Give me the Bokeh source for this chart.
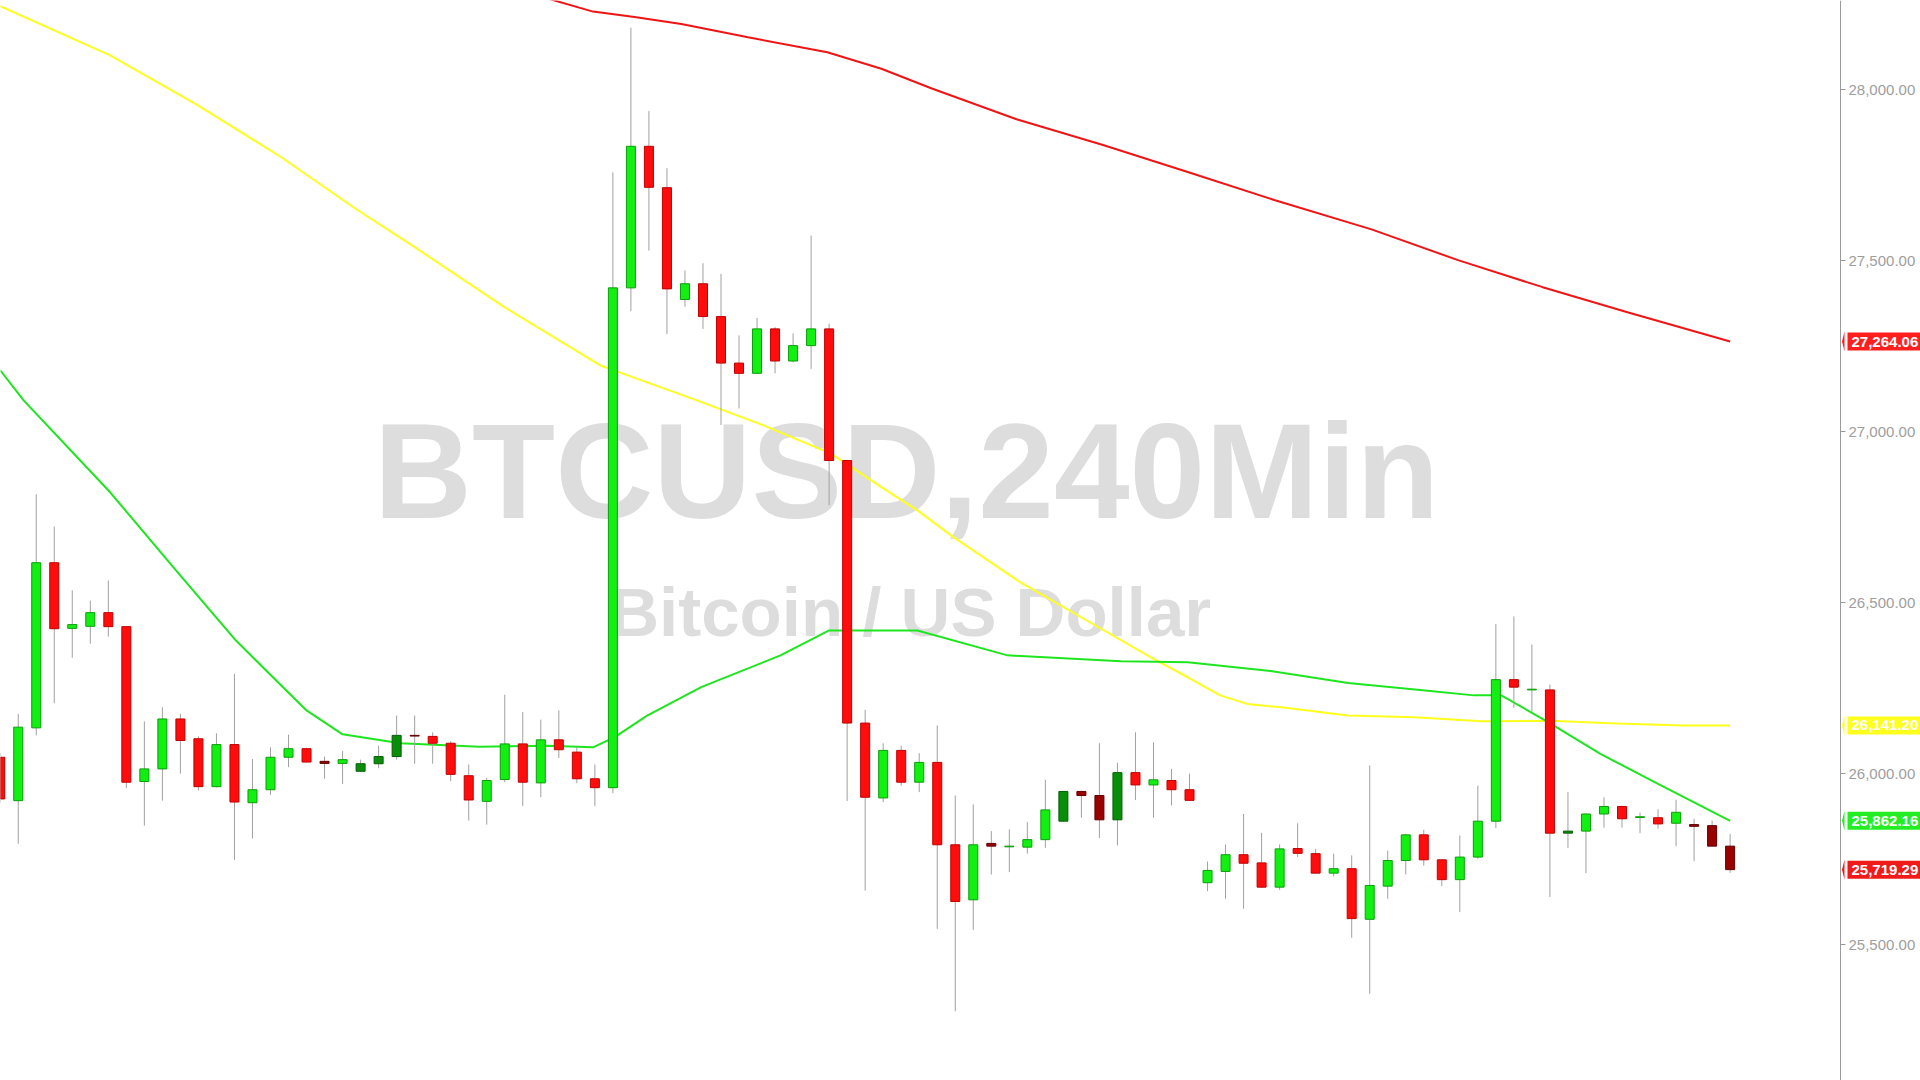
from bokeh.plotting import figure
from bokeh.models import (ColumnDataSource, SingleIntervalTicker, NumeralTickFormatter,
                          Range1d, Label, PolyAnnotation)
from bokeh.core.properties import value
from bokeh.embed import file_html
from bokeh.resources import INLINE

# ---------------- data (BTCUSD, 240 min bars) ----------------
opens = [26048, 25921, 26134, 26617, 26425, 26431, 26471, 26430, 25977, 26014,
         26160, 26102, 25962, 26085, 25915, 25953, 26048, 26073, 26036, 26030,
         26007, 26029, 26050, 26112, 26109, 26089, 25994, 25919, 25983, 26087,
         25973, 26099, 26063, 25985, 25959, 27421, 27835, 27714, 27387, 27433,
         27337, 27201, 27171, 27301, 27207, 27252, 27301, 26916, 26148, 25929,
         26068, 25975, 26033, 25792, 25631, 25796, 25786, 25785, 25807, 25861,
         25948, 25936, 25865, 26003, 25967, 25980, 25953, 25681, 25714, 25763,
         25739, 25668, 25781, 25766, 25709, 25722, 25574, 25671, 25746, 25821,
         25748, 25690, 25756, 25861, 26275, 26245, 26245, 25826, 25832, 25882,
         25904, 25872, 25871, 25855, 25851, 25848, 25788]
highs = [26060, 26175, 26817, 26723, 26536, 26506, 26565, 26432, 26153, 26194,
         26175, 26109, 26118, 26292, 26043, 26077, 26114, 26076, 26050, 26066,
         26041, 26082, 26170, 26170, 26121, 26095, 26027, 25988, 26231, 26180,
         26158, 26185, 26077, 26027, 27759, 28182, 27938, 27771, 27472, 27493,
         27462, 27282, 27333, 27306, 27288, 27574, 27316, 26918, 26187, 26089,
         26082, 26060, 26141, 25936, 25910, 25832, 25837, 25858, 25982, 25948,
         25950, 26089, 26032, 26121, 26092, 26014, 26000, 25743, 25793, 25882,
         25827, 25793, 25855, 25780, 25766, 25761, 26024, 25775, 25824, 25836,
         25750, 25819, 25965, 26438, 26460, 26378, 26261, 25946, 25884, 25931,
         25906, 25886, 25896, 25924, 25868, 25863, 25824]
lows = [25915, 25795, 26112, 26206, 26339, 26380, 26401, 25958, 25848, 25921,
        26000, 25951, 25960, 25748, 25810, 25938, 26019, 26033, 25985, 25970,
        26007, 26016, 26041, 26029, 26029, 25978, 25863, 25851, 25975, 25905,
        25931, 26046, 25972, 25905, 25943, 27353, 27530, 27286, 27366, 27301,
        27020, 27068, 27171, 27171, 27203, 27184, 26785, 25920, 25658, 25917,
        25965, 25946, 25546, 25305, 25543, 25705, 25712, 25766, 25783, 25860,
        25871, 25812, 25790, 25923, 25871, 25907, 25920, 25656, 25634, 25605,
        25666, 25660, 25756, 25707, 25699, 25520, 25356, 25634, 25705, 25731,
        25671, 25595, 25751, 25841, 26193, 26180, 25639, 25783, 25709, 25842,
        25842, 25826, 25839, 25788, 25744, 25788, 25710]
closes = [25926, 26136, 26617, 26424, 26436, 26471, 26430, 25975, 26014, 26160,
          26097, 25962, 26085, 25917, 25953, 26048, 26073, 26034, 26030, 26041,
          26029, 26050, 26112, 26110, 26089, 25998, 25923, 25980, 26087, 25975,
          26099, 26070, 25985, 25959, 27421, 27835, 27715, 27418, 27433, 27337,
          27201, 27171, 27301, 27207, 27252, 27301, 26916, 26148, 25931, 26068,
          25975, 26033, 25792, 25626, 25792, 25788, 25788, 25807, 25894, 25948,
          25936, 25865, 26003, 25967, 25982, 25953, 25922, 25717, 25763, 25738,
          25668, 25780, 25767, 25709, 25722, 25576, 25673, 25746, 25821, 25748,
          25690, 25756, 25861, 26275, 26253, 26247, 25826, 25832, 25882, 25904,
          25868, 25874, 25853, 25887, 25846, 25788, 25719.29]
# bars drawn in the platform's darker shade
dim_bars = [18, 20, 21, 22, 23, 55, 59, 60, 61, 62, 87, 94, 95, 96]

ma50_x = [0, 1.3, 6.1, 9.6, 13.0, 14.1, 17.0, 19.0, 22.2, 26.6, 30.4, 32.9, 34.1, 35.9,
          38.9, 43.3, 46.0, 48.9, 50.9, 55.9, 62.2, 65.9, 70.5, 74.8, 78.8, 81.8,
          83.3, 85.9, 88.8, 92.0, 96]
ma50_y = [27180, 27092, 26823, 26604, 26394, 26336, 26185, 26115, 26089, 26079, 26082,
          26077, 26107, 26170, 26253, 26346, 26419, 26419, 26419, 26346, 26329, 26326,
          26300, 26265, 26245, 26229, 26229, 26151, 26058, 25970, 25862.16]
ma100_x = [0, 6.1, 10.9, 15.6, 19.7, 23.0, 28.0, 33.3, 34.1, 38.7, 42.4, 46.1, 48.9,
           50.9, 52.9, 56.6, 60.3, 64.0, 65.9, 67.7, 69.2, 71.1, 74.8, 78.5, 82.2,
           86.0, 89.7, 93.4, 96]
ma100_y = [28245, 28101, 27957, 27803, 27653, 27540, 27364, 27194, 27179, 27091, 27018,
           26936, 26838, 26770, 26692, 26560, 26448, 26336, 26282, 26229, 26204, 26194,
           26170, 26165, 26153, 26155, 26147, 26141, 26141.20]
ma200_x = [30.0, 32.9, 35.2, 37.8, 41.5, 45.9, 48.9, 51.7, 56.4, 61.2, 65.9, 70.7,
           76.1, 80.9, 85.6, 90.4, 96]
ma200_y = [28273, 28229, 28213, 28193, 28154, 28110, 28062, 28004, 27914, 27839, 27760,
           27678, 27592, 27502, 27423, 27348, 27264.06]

symbol = "BTCUSD"
interval = "240Min"
description = "Bitcoin / US Dollar"

# ---------------- styling ----------------
FRAME_W = 1920
FRAME_H = 1080
PX = 18.02                         # pixels per bar
X0 = 0.3 / PX
X1 = X0 + FRAME_W / PX
Y0, Y1 = 25102.5, 28261.5
UNIT_X = 1 / PX                    # data units per pixel, x
UNIT_Y = (Y1 - Y0) / FRAME_H       # data units per pixel, y
AXIS_X = X0 + 1840 * UNIT_X        # where the price scale sits

UP, UP_LINE = "#12F012", "#0A9E0A"
DN, DN_LINE = "#FF0D0D", "#C00000"
UP_DIM, UP_DIM_LINE = "#088E08", "#055E05"
DN_DIM, DN_DIM_LINE = "#990000", "#600000"

idx = list(range(len(opens)))
fill, line = [], []
for i in idx:
    up = closes[i] >= opens[i]
    dim = i in dim_bars
    if up:
        fill.append(UP_DIM if dim else UP)
        line.append(UP_DIM_LINE if dim else UP_LINE)
    else:
        fill.append(DN_DIM if dim else DN)
        line.append(DN_DIM_LINE if dim else DN_LINE)

src = ColumnDataSource(dict(
    x=idx, high=highs, low=lows,
    top=[max(o, c) for o, c in zip(opens, closes)],
    bottom=[min(o, c) for o, c in zip(opens, closes)],
    fill=fill, line=line))

p = figure(frame_width=FRAME_W, frame_height=FRAME_H,
           output_backend="svg", toolbar_location=None,
           x_axis_location=None, y_axis_location="right",
           x_range=Range1d(X0, X1), y_range=Range1d(Y0, Y1),
           min_border_left=0, min_border_top=0, min_border_bottom=0,
           min_border_right=0,
           background_fill_color="white", border_fill_color="white",
           outline_line_color=None)
p.xgrid.visible = False
p.ygrid.visible = False

# watermark
p.text(x=[50.3], y=[26884], text=[f"{symbol},{interval}"],
       text_align="center", text_baseline="alphabetic",
       text_font=value("Liberation Sans"), text_font_style="bold",
       text_font_size="136px", text_color="#DDDDDD")
p.text(x=[50.5], y=[26470], text=[description],
       text_align="center", text_baseline="alphabetic",
       text_font=value("Liberation Sans"), text_font_style="bold",
       text_font_size="69px", text_color="#DDDDDD")

# moving averages
p.line(ma200_x, ma200_y, line_color="#F01414", line_width=2)
p.line(ma100_x, ma100_y, line_color="#FFFF1E", line_width=2)
p.line(ma50_x, ma50_y, line_color="#1EE61E", line_width=2)

# candles
p.segment(x0="x", x1="x", y0="low", y1="high", source=src,
          line_color="#A0A0A0", line_width=1)
p.vbar(x="x", top="top", bottom="bottom", width=0.5, source=src,
       fill_color="fill", line_color="line", line_width=1)

# price axis (right-hand scale, pinned at the end of the bar area)
ax = p.yaxis[0]
ax.fixed_location = AXIS_X
ax.ticker = SingleIntervalTicker(interval=500, num_minor_ticks=0)
ax.formatter = NumeralTickFormatter(format="0,0.00")
ax.major_label_text_font = "Liberation Sans"
ax.major_label_text_font_size = "15px"
ax.major_label_text_color = "#9E9E9E"
ax.axis_line_color = "#9A9A9A"
ax.major_tick_line_color = "#9A9A9A"
ax.major_tick_in = 0
ax.major_tick_out = 5
ax.minor_tick_line_color = None
ax.major_label_standoff = 3

# price tags on the scale
tags = [(ma200_y[-1], "#FF1E1E"), (ma100_y[-1], "#FFFF1E"),
        (ma50_y[-1], "#22EE22"), (closes[-1], "#F01A1A")]
half = 10 * UNIT_Y
for v, c in tags:
    p.add_layout(PolyAnnotation(xs=[AXIS_X + 1.5 * UNIT_X, AXIS_X + 4 * UNIT_X, AXIS_X + 4 * UNIT_X],
                                ys=[v, v + half, v - half],
                                fill_color=c, fill_alpha=1.0, line_color=c, line_width=0))
    p.add_layout(Label(x=AXIS_X + 7 * UNIT_X, y=v,
                       text=f"{v:,.2f}", text_align="left", text_baseline="middle",
                       text_font="Liberation Sans", text_font_style="bold",
                       text_font_size="15px", text_color="white",
                       background_fill_color=c, padding=4))

open("out.html", "w").write(file_html(p, INLINE))
